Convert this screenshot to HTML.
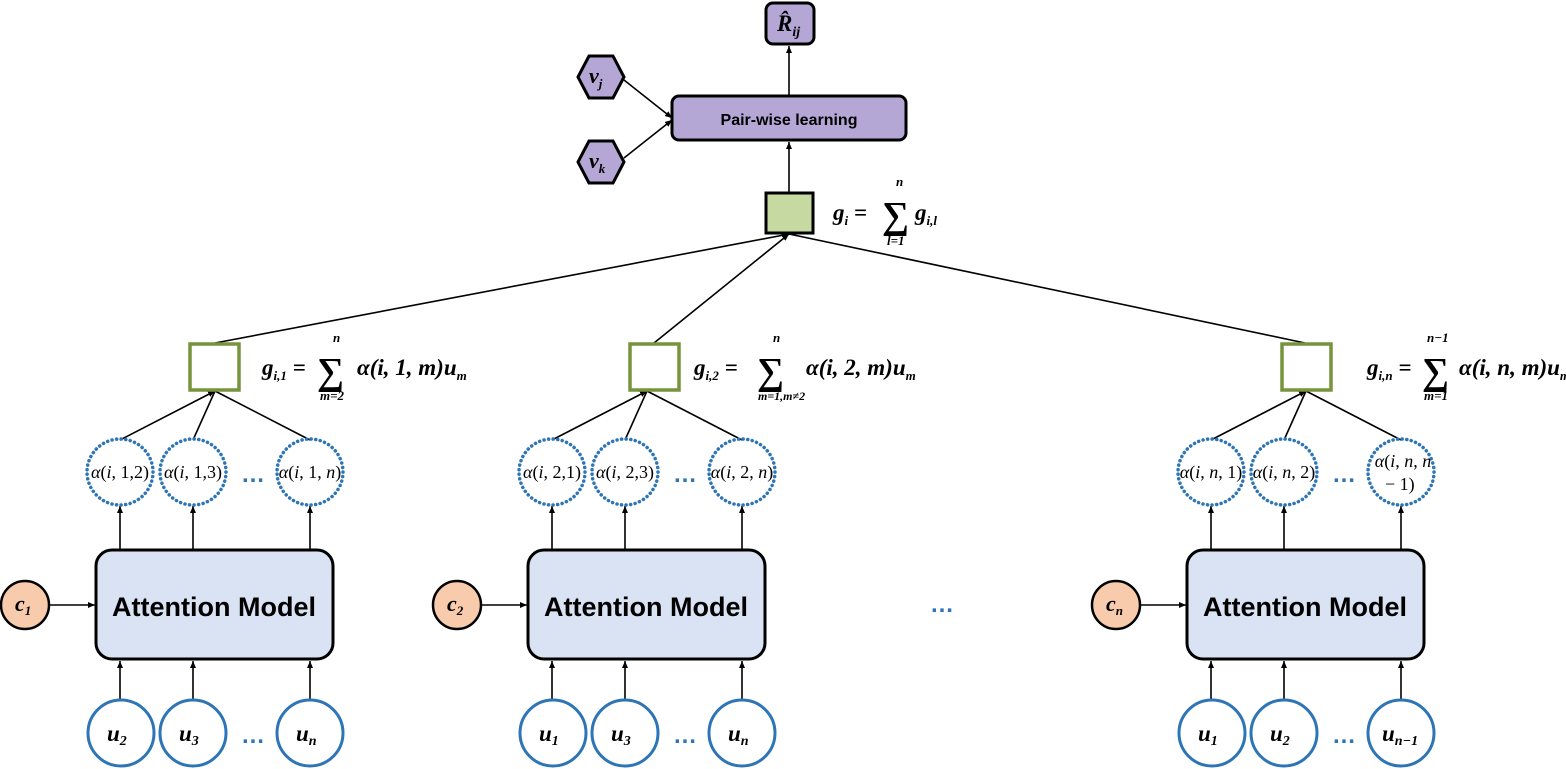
<!DOCTYPE html>
<html><head><meta charset="utf-8"><style>
body{margin:0;background:#fff}
svg{display:block}
.f{font-family:"Liberation Serif",serif;font-style:italic;font-weight:bold}
.a{font-family:"Liberation Serif",serif;font-size:18px}
.s{font-family:"Liberation Sans",sans-serif;font-weight:bold}
</style></head><body>
<svg width="1566" height="769" viewBox="0 0 1566 769" xmlns="http://www.w3.org/2000/svg">
<defs><marker id="ar" markerWidth="8" markerHeight="8" refX="7" refY="4" orient="auto" markerUnits="userSpaceOnUse"><path d="M0,1 L7,4 L0,7 z" fill="#000"/></marker></defs>
<g stroke="#000" stroke-width="1.6" fill="none">
<line x1="215" y1="343" x2="789" y2="234"/>
<line x1="654" y1="343" x2="789" y2="234" marker-end="url(#ar)"/>
<line x1="1305" y1="343" x2="789" y2="234"/>
<line x1="789" y1="193" x2="789" y2="142" marker-end="url(#ar)"/>
<line x1="789" y1="96" x2="789" y2="46" marker-end="url(#ar)"/>
<line x1="624" y1="80" x2="672" y2="118" marker-end="url(#ar)"/>
<line x1="624" y1="158" x2="672" y2="120" marker-end="url(#ar)"/>
</g>
<rect x="766" y="3" width="48" height="41" rx="7" fill="#b4a7d6" stroke="#000" stroke-width="3"/>
<text x="777" y="31" class="f" font-size="23">R̂<tspan font-size="14" dy="5">ij</tspan></text>
<rect x="672" y="96" width="234" height="44" rx="7" fill="#b4a7d6" stroke="#000" stroke-width="3"/>
<text x="789" y="125" class="s" font-size="16" text-anchor="middle">Pair-wise learning</text>
<polygon points="578,77 589,56 613,56 624,77 613,98 589,98" fill="#b4a7d6" stroke="#000" stroke-width="3"/>
<text x="589" y="83" class="f" font-size="22">v<tspan font-size="13" dy="5">j</tspan></text>
<polygon points="578,162 589,141 613,141 624,162 613,183 589,183" fill="#b4a7d6" stroke="#000" stroke-width="3"/>
<text x="589" y="168" class="f" font-size="22">v<tspan font-size="13" dy="5">k</tspan></text>
<rect x="766" y="193" width="47" height="40" fill="#c5d9a0" stroke="#000" stroke-width="3"/>
<text x="833" y="220" class="f" font-size="23">g<tspan font-size="13" dy="5">i</tspan><tspan dy="-5"> =</tspan></text>
<text x="882" y="228" class="f" font-size="38">∑</text>
<text x="896" y="186" class="f" font-size="13">n</text>
<text x="887" y="245" class="f" font-size="13">l=1</text>
<text x="915" y="220" class="f" font-size="23">g<tspan font-size="13" dy="5">i,l</tspan></text>

<!-- group 1 -->
<g>
<g stroke="#000" stroke-width="1.6" fill="none">
<line x1="120" y1="440" x2="215" y2="391" marker-end="url(#ar)"/>
<line x1="193" y1="440" x2="215" y2="391"/>
<line x1="310" y1="440" x2="215" y2="391"/>
<line x1="120" y1="550" x2="120" y2="506" marker-end="url(#ar)"/>
<line x1="193" y1="550" x2="193" y2="506" marker-end="url(#ar)"/>
<line x1="310" y1="550" x2="310" y2="506" marker-end="url(#ar)"/>
<line x1="120" y1="699" x2="120" y2="661" marker-end="url(#ar)"/>
<line x1="193" y1="699" x2="193" y2="661" marker-end="url(#ar)"/>
<line x1="310" y1="699" x2="310" y2="661" marker-end="url(#ar)"/>
<line x1="49" y1="605" x2="95" y2="605" marker-end="url(#ar)"/>
</g>
<rect x="190" y="344" width="49" height="46" fill="#fff" stroke="#77933c" stroke-width="3.5"/>
<g fill="none" stroke="#2e75b6" stroke-width="3.5" stroke-dasharray="0.1 4.5" stroke-linecap="round">
<circle cx="120" cy="472" r="33"/><circle cx="193" cy="472" r="33"/><circle cx="310" cy="472" r="33"/></g>
<text x="120" y="478" class="a" text-anchor="middle"><tspan font-style="italic">α</tspan>(<tspan font-style="italic">i</tspan>, 1,2)</text>
<text x="193" y="478" class="a" text-anchor="middle"><tspan font-style="italic">α</tspan>(<tspan font-style="italic">i</tspan>, 1,3)</text>
<text x="310" y="478" class="a" text-anchor="middle"><tspan font-style="italic">α</tspan>(<tspan font-style="italic">i</tspan>, 1, <tspan font-style="italic">n</tspan>)</text>
<text x="253" y="482" class="s" font-size="24" fill="#2e75b6" text-anchor="middle">…</text>
<rect x="96" y="550" width="237" height="109" rx="16" fill="#dae3f3" stroke="#000" stroke-width="3"/>
<text x="214" y="616" class="s" font-size="27" text-anchor="middle">Attention Model</text>
<circle cx="25" cy="605" r="24" fill="#f8cbad" stroke="#000" stroke-width="2.5"/>
<text x="15" y="611" class="f" font-size="22">c<tspan font-size="13" dy="4">1</tspan></text>
<g fill="#fff" stroke="#2e75b6" stroke-width="3"><circle cx="121" cy="733" r="33"/><circle cx="193" cy="733" r="33"/><circle cx="310" cy="733" r="33"/></g>
<text x="107" y="741" class="f" font-size="23">u<tspan font-size="14" dy="4">2</tspan></text>
<text x="179" y="741" class="f" font-size="23">u<tspan font-size="14" dy="4">3</tspan></text>
<text x="296" y="741" class="f" font-size="23">u<tspan font-size="14" dy="4">n</tspan></text>
<text x="253" y="743" class="s" font-size="24" fill="#2e75b6" text-anchor="middle">…</text>
<text x="262" y="375" class="f" font-size="23">g<tspan font-size="13" dy="5">i,1</tspan><tspan dy="-5"> =</tspan></text>
<text x="317" y="384" class="f" font-size="38">∑</text>
<text x="333" y="342" class="f" font-size="13">n</text>
<text x="320" y="400" class="f" font-size="13">m=2</text>
<text x="357" y="375" class="f" font-size="23">α(i, 1, m)u<tspan font-size="13" dy="5">m</tspan></text>
</g>

<!-- group 2 -->
<g transform="translate(432,0)">
<g stroke="#000" stroke-width="1.6" fill="none">
<line x1="120" y1="440" x2="215" y2="391" marker-end="url(#ar)"/>
<line x1="193" y1="440" x2="215" y2="391"/>
<line x1="310" y1="440" x2="215" y2="391"/>
<line x1="120" y1="550" x2="120" y2="506" marker-end="url(#ar)"/>
<line x1="193" y1="550" x2="193" y2="506" marker-end="url(#ar)"/>
<line x1="310" y1="550" x2="310" y2="506" marker-end="url(#ar)"/>
<line x1="120" y1="699" x2="120" y2="661" marker-end="url(#ar)"/>
<line x1="193" y1="699" x2="193" y2="661" marker-end="url(#ar)"/>
<line x1="310" y1="699" x2="310" y2="661" marker-end="url(#ar)"/>
<line x1="49" y1="605" x2="95" y2="605" marker-end="url(#ar)"/>
</g>
<rect x="198" y="344" width="49" height="46" fill="#fff" stroke="#77933c" stroke-width="3.5"/>
<g fill="none" stroke="#2e75b6" stroke-width="3.5" stroke-dasharray="0.1 4.5" stroke-linecap="round">
<circle cx="120" cy="472" r="33"/><circle cx="193" cy="472" r="33"/><circle cx="310" cy="472" r="33"/></g>
<text x="120" y="478" class="a" text-anchor="middle"><tspan font-style="italic">α</tspan>(<tspan font-style="italic">i</tspan>, 2,1)</text>
<text x="193" y="478" class="a" text-anchor="middle"><tspan font-style="italic">α</tspan>(<tspan font-style="italic">i</tspan>, 2,3)</text>
<text x="310" y="478" class="a" text-anchor="middle"><tspan font-style="italic">α</tspan>(<tspan font-style="italic">i</tspan>, 2, <tspan font-style="italic">n</tspan>)</text>
<text x="253" y="482" class="s" font-size="24" fill="#2e75b6" text-anchor="middle">…</text>
<rect x="96" y="550" width="237" height="109" rx="16" fill="#dae3f3" stroke="#000" stroke-width="3"/>
<text x="214" y="616" class="s" font-size="27" text-anchor="middle">Attention Model</text>
<circle cx="25" cy="605" r="24" fill="#f8cbad" stroke="#000" stroke-width="2.5"/>
<text x="15" y="611" class="f" font-size="22">c<tspan font-size="13" dy="4">2</tspan></text>
<g fill="#fff" stroke="#2e75b6" stroke-width="3"><circle cx="121" cy="733" r="33"/><circle cx="193" cy="733" r="33"/><circle cx="310" cy="733" r="33"/></g>
<text x="107" y="741" class="f" font-size="23">u<tspan font-size="14" dy="4">1</tspan></text>
<text x="179" y="741" class="f" font-size="23">u<tspan font-size="14" dy="4">3</tspan></text>
<text x="296" y="741" class="f" font-size="23">u<tspan font-size="14" dy="4">n</tspan></text>
<text x="253" y="743" class="s" font-size="24" fill="#2e75b6" text-anchor="middle">…</text>
<text x="262" y="375" class="f" font-size="23">g<tspan font-size="13" dy="5">i,2</tspan><tspan dy="-5"> =</tspan></text>
<text x="325" y="384" class="f" font-size="38">∑</text>
<text x="341" y="342" class="f" font-size="13">n</text>
<text x="326" y="400" class="f" font-size="12">m=1,m≠2</text>
<text x="374" y="375" class="f" font-size="23">α(i, 2, m)u<tspan font-size="13" dy="5">m</tspan></text>
</g>
<text x="942" y="612" class="s" font-size="24" fill="#2e75b6" text-anchor="middle">…</text>

<!-- group 3 -->
<g transform="translate(1091,0)">
<g stroke="#000" stroke-width="1.6" fill="none">
<line x1="120" y1="440" x2="215" y2="391" marker-end="url(#ar)"/>
<line x1="193" y1="440" x2="215" y2="391"/>
<line x1="310" y1="440" x2="215" y2="391"/>
<line x1="120" y1="550" x2="120" y2="506" marker-end="url(#ar)"/>
<line x1="193" y1="550" x2="193" y2="506" marker-end="url(#ar)"/>
<line x1="310" y1="550" x2="310" y2="506" marker-end="url(#ar)"/>
<line x1="120" y1="699" x2="120" y2="661" marker-end="url(#ar)"/>
<line x1="193" y1="699" x2="193" y2="661" marker-end="url(#ar)"/>
<line x1="310" y1="699" x2="310" y2="661" marker-end="url(#ar)"/>
<line x1="49" y1="605" x2="95" y2="605" marker-end="url(#ar)"/>
</g>
<rect x="191" y="344" width="49" height="46" fill="#fff" stroke="#77933c" stroke-width="3.5"/>
<g fill="none" stroke="#2e75b6" stroke-width="3.5" stroke-dasharray="0.1 4.5" stroke-linecap="round">
<circle cx="120" cy="472" r="33"/><circle cx="193" cy="472" r="33"/><circle cx="310" cy="472" r="33"/></g>
<text x="120" y="478" class="a" text-anchor="middle"><tspan font-style="italic">α</tspan>(<tspan font-style="italic">i</tspan>, <tspan font-style="italic">n</tspan>, 1)</text>
<text x="193" y="478" class="a" text-anchor="middle"><tspan font-style="italic">α</tspan>(<tspan font-style="italic">i</tspan>, <tspan font-style="italic">n</tspan>, 2)</text>
<text x="312" y="467" class="a" text-anchor="middle"><tspan font-style="italic">α</tspan>(<tspan font-style="italic">i</tspan>, <tspan font-style="italic">n</tspan>, <tspan font-style="italic">n</tspan></text>
<text x="294" y="490" class="a">− 1)</text>
<text x="253" y="482" class="s" font-size="24" fill="#2e75b6" text-anchor="middle">…</text>
<rect x="96" y="550" width="237" height="109" rx="16" fill="#dae3f3" stroke="#000" stroke-width="3"/>
<text x="214" y="616" class="s" font-size="27" text-anchor="middle">Attention Model</text>
<circle cx="25" cy="605" r="24" fill="#f8cbad" stroke="#000" stroke-width="2.5"/>
<text x="15" y="611" class="f" font-size="22">c<tspan font-size="13" dy="4">n</tspan></text>
<g fill="#fff" stroke="#2e75b6" stroke-width="3"><circle cx="121" cy="733" r="33"/><circle cx="193" cy="733" r="33"/><circle cx="310" cy="733" r="33"/></g>
<text x="107" y="741" class="f" font-size="23">u<tspan font-size="14" dy="4">1</tspan></text>
<text x="179" y="741" class="f" font-size="23">u<tspan font-size="14" dy="4">2</tspan></text>
<text x="291" y="741" class="f" font-size="23">u<tspan font-size="14" dy="4">n−1</tspan></text>
<text x="253" y="743" class="s" font-size="24" fill="#2e75b6" text-anchor="middle">…</text>
<text x="276" y="375" class="f" font-size="23">g<tspan font-size="13" dy="5">i,n</tspan><tspan dy="-5"> =</tspan></text>
<text x="331" y="384" class="f" font-size="38">∑</text>
<text x="336" y="342" class="f" font-size="13">n−1</text>
<text x="333" y="400" class="f" font-size="13">m=1</text>
<text x="368" y="375" class="f" font-size="23">α(i, n, m)u<tspan font-size="13" dy="5">m</tspan></text>
</g>
</svg>
</body></html>
